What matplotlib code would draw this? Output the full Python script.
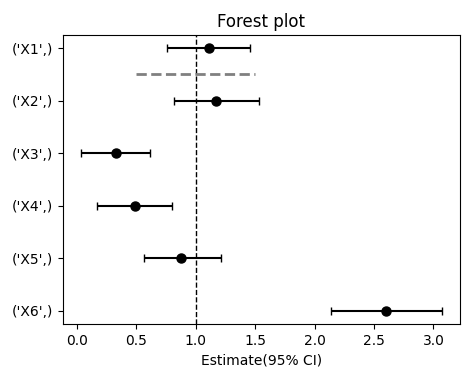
import matplotlib
matplotlib.use("Agg")
import matplotlib.pyplot as plt

labels = ["('X1',)", "('X2',)", "('X3',)", "('X4',)", "('X5',)", "('X6',)"]
estimate = [1.11, 1.17, 0.33, 0.485, 0.88, 2.60]
ci_low = [0.755, 0.815, 0.035, 0.165, 0.565, 2.14]
ci_high = [1.455, 1.53, 0.615, 0.80, 1.21, 3.07]

ypos = list(range(len(labels)))
err_lo = [e - lo for e, lo in zip(estimate, ci_low)]
err_hi = [hi - e for e, hi in zip(estimate, ci_high)]

fig = plt.figure(figsize=(4.74, 3.79), dpi=100)
ax = fig.add_axes([0.133, 0.145, 0.837, 0.763])

ax.errorbar(estimate, ypos, xerr=[err_lo, err_hi], fmt="o", color="black",
            ecolor="black", elinewidth=1.5, capsize=3, markersize=6.5)
ax.axvline(1.0, color="black", linestyle="--", linewidth=1)
ax.hlines(0.5, 0.5, 1.5, colors="gray", linestyles="--", linewidth=2)

ax.set_yticks(ypos)
ax.set_yticklabels(labels)
ax.invert_yaxis()
ax.set_xlabel("Estimate(95% CI)")
ax.set_title("Forest plot")

fig.savefig("out.png", dpi=100)
